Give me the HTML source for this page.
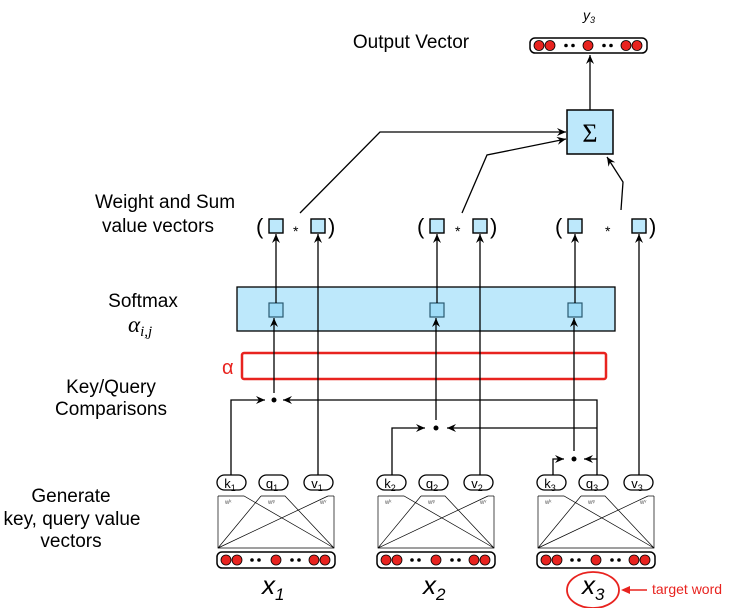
<!DOCTYPE html>
<html><head><style>
html,body{margin:0;padding:0;background:#fff;}
svg{display:block;font-family:"Liberation Sans",sans-serif;}
</style></head><body>
<svg width="739" height="608" viewBox="0 0 739 608" xmlns="http://www.w3.org/2000/svg">
<defs>
<marker id="a" markerWidth="10" markerHeight="10" refX="9" refY="5" orient="auto" markerUnits="userSpaceOnUse">
<path d="M0,1 L9,5 L0,9 L3,5 Z" fill="#000"/></marker>
<g id="grp">
<rect x="0" y="475" width="29" height="15" rx="7.5" fill="#fff" stroke="#000" stroke-width="1.3"/>
<rect x="42" y="475" width="29" height="15" rx="7.5" fill="#fff" stroke="#000" stroke-width="1.3"/>
<rect x="87" y="475" width="29" height="15" rx="7.5" fill="#fff" stroke="#000" stroke-width="1.3"/>
<g stroke="#000" stroke-width="0.7" fill="none">
<path d="M1,496 L1,548 L117,548 L117,496"/>
<path d="M1,496 L27,496 L117,548"/>
<path d="M44,496 L1,548"/><path d="M44,496 L68,496 L117,548"/>
<path d="M111,496 L1,548"/><path d="M111,496 L117,496"/>
</g>
<text x="8" y="504" font-size="6" fill="#555">wᵏ</text>
<text x="51" y="504" font-size="6" fill="#555">wᵠ</text>
<text x="103" y="504" font-size="6" fill="#555">wᵛ</text>
<rect x="0" y="552" width="118" height="16" rx="5" fill="#fff" stroke="#000" stroke-width="1.5"/>
<g fill="#e8231f" stroke="#000" stroke-width="0.8">
<circle cx="9" cy="560" r="5"/><circle cx="20" cy="560" r="5"/><circle cx="59" cy="560" r="5"/><circle cx="97" cy="560" r="5"/><circle cx="108" cy="560" r="5"/></g>
<g fill="#000"><circle cx="35" cy="560" r="1.8"/><circle cx="42" cy="560" r="1.8"/><circle cx="75" cy="560" r="1.8"/><circle cx="82" cy="560" r="1.8"/></g>
</g>
</defs>

<!-- text labels -->
<g font-size="19" text-anchor="middle">
<text x="411" y="48">Output Vector</text>
<text x="165" y="208">Weight and Sum</text>
<text x="158" y="232">value vectors</text>
<text x="143" y="307">Softmax</text>
<text x="111" y="393">Key/Query</text>
<text x="111" y="415">Comparisons</text>
<text x="71" y="502">Generate</text>
<text x="72" y="525">key, query value</text>
<text x="71" y="547">vectors</text>
</g>
<text x="128" y="332" font-size="23" font-style="italic" font-family="Liberation Serif, serif">α<tspan font-size="15" dy="4">i,j</tspan></text>
<text x="222" y="374" font-size="20" fill="#e8231f">α</text>

<!-- softmax bar -->
<rect x="237" y="287" width="378" height="44" fill="#bde8fb" stroke="#000" stroke-width="1.3"/>
<rect x="242" y="353" width="364" height="26" fill="none" stroke="#e8231f" stroke-width="2.5" rx="2"/>
<g fill="#9fdcf7" stroke="#2a5a70" stroke-width="1.2">
<rect x="269" y="303" width="14" height="14"/><rect x="430" y="303" width="14" height="14"/><rect x="568" y="303" width="14" height="14"/>
</g>

<!-- groups -->
<use href="#grp" x="217"/>
<use href="#grp" x="377"/>
<use href="#grp" x="537"/>
<g font-size="13" text-anchor="middle">
<text x="230" y="488">k<tspan font-size="9" dy="3">1</tspan></text>
<text x="272" y="488">q<tspan font-size="9" dy="3">1</tspan></text>
<text x="317" y="488">v<tspan font-size="9" dy="3">1</tspan></text>
<text x="390" y="488">k<tspan font-size="9" dy="3">2</tspan></text>
<text x="432" y="488">q<tspan font-size="9" dy="3">2</tspan></text>
<text x="477" y="488">v<tspan font-size="9" dy="3">2</tspan></text>
<text x="550" y="488">k<tspan font-size="9" dy="3">3</tspan></text>
<text x="592" y="488">q<tspan font-size="9" dy="3">3</tspan></text>
<text x="637" y="488">v<tspan font-size="9" dy="3">3</tspan></text>
</g>
<g font-size="26" font-style="italic">
<text x="262" y="594">x<tspan font-size="17" dy="6">1</tspan></text>
<text x="423" y="594">x<tspan font-size="17" dy="6">2</tspan></text>
<text x="582" y="594">x<tspan font-size="17" dy="6">3</tspan></text>
</g>
<ellipse cx="593" cy="590" rx="26" ry="18" fill="none" stroke="#e8231f" stroke-width="1.8"/>
<line x1="647" y1="590" x2="623" y2="590" stroke="#e8231f" stroke-width="1.5"/>
<path d="M621,590 L630,586 L630,594 Z" fill="#e8231f"/>
<text x="652" y="594" font-size="14" fill="#e8231f">target word</text>

<!-- connectors -->
<g stroke="#000" stroke-width="1.3" fill="none">
<path d="M231,475 V400 H265" marker-end="url(#a)"/>
<path d="M597,475 V400 H283" marker-end="url(#a)"/>
<path d="M392,475 V428 H425" marker-end="url(#a)"/>
<path d="M597,428 H447" marker-end="url(#a)"/>
<path d="M553,475 V459 H564" marker-end="url(#a)"/>
<path d="M597,459 H584" marker-end="url(#a)"/>
<path d="M274,393 V318" marker-end="url(#a)"/>
<path d="M436,420 V318" marker-end="url(#a)"/>
<path d="M574,451 V318" marker-end="url(#a)"/>
<path d="M276,303 V234" marker-end="url(#a)"/>
<path d="M437,303 V234" marker-end="url(#a)"/>
<path d="M575,303 V234" marker-end="url(#a)"/>
<path d="M318,475 V234" marker-end="url(#a)"/>
<path d="M480,475 V234" marker-end="url(#a)"/>
<path d="M639,475 V234" marker-end="url(#a)"/>
<path d="M300,213 L380,132 H566" marker-end="url(#a)"/>
<path d="M462,213 L487,155 L566,139" marker-end="url(#a)"/>
<path d="M621,210 L623,182 L607,157" marker-end="url(#a)"/>
<path d="M590,110 V55" marker-end="url(#a)"/>
</g>
<g fill="#000"><circle cx="274" cy="400" r="2.5"/><circle cx="436" cy="428" r="2.5"/><circle cx="574" cy="459" r="2.5"/></g>

<!-- value squares -->
<g fill="#bde8fb" stroke="#000" stroke-width="1.4">
<rect x="269" y="219" width="14" height="14"/><rect x="311" y="219" width="14" height="14"/>
<rect x="430" y="219" width="14" height="14"/><rect x="473" y="219" width="14" height="14"/>
<rect x="568" y="219" width="14" height="14"/><rect x="632" y="219" width="14" height="14"/>
</g>
<g font-size="22">
<text x="256" y="234">(</text><text x="328" y="234">)</text>
<text x="417" y="234">(</text><text x="490" y="234">)</text>
<text x="555" y="234">(</text><text x="649" y="234">)</text>
</g>
<g font-size="14"><text x="293" y="236">*</text><text x="455" y="236">*</text><text x="605" y="236">*</text></g>

<!-- sigma -->
<rect x="567" y="110" width="46" height="44" fill="#bde8fb" stroke="#000" stroke-width="1.5"/>
<text x="590" y="142" font-size="26" text-anchor="middle" font-family="Liberation Serif, serif">Σ</text>
<!-- output -->
<rect x="530" y="38" width="117" height="15" rx="5" fill="#fff" stroke="#000" stroke-width="1.5"/>
<g fill="#e8231f" stroke="#000" stroke-width="0.8">
<circle cx="539" cy="45.5" r="5"/><circle cx="550" cy="45.5" r="5"/><circle cx="588" cy="45.5" r="5"/><circle cx="626" cy="45.5" r="5"/><circle cx="637" cy="45.5" r="5"/></g>
<g fill="#000"><circle cx="566" cy="45.5" r="1.8"/><circle cx="573" cy="45.5" r="1.8"/><circle cx="604" cy="45.5" r="1.8"/><circle cx="611" cy="45.5" r="1.8"/></g>
<text x="583" y="20" font-size="14" font-style="italic">y<tspan font-size="9" dy="3">3</tspan></text>
</svg>
</body></html>
